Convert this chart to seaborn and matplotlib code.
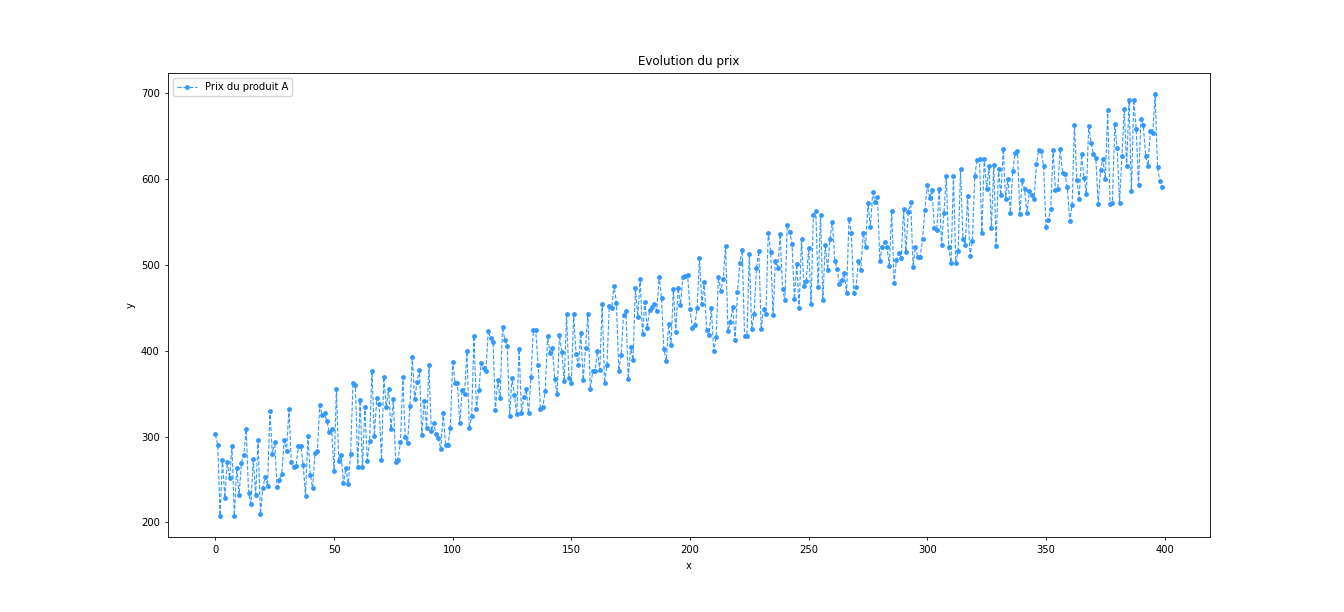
import matplotlib
matplotlib.use("Agg")
import matplotlib.pyplot as plt
import seaborn as sns
import pandas as pd

prix = [
302.4,290.7,207.8,273.2,228.4,270.5,251.8,288.4,207.8,263.5,232.3,269.7,279.0,308.2,234.3,221.8,274.4,232.3,295.4,210.1,
240.1,253.0,242.8,329.3,280.2,294.2,240.9,249.8,256.8,295.4,282.9,331.6,270.9,264.2,265.4,288.4,289.5,267.4,231.1,300.1,
255.7,240.1,281.0,283.7,336.3,324.6,326.9,317.6,305.5,309.0,259.6,355.0,271.3,277.9,245.9,263.5,245.2,280.2,362.8,360.1,
264.3,342.1,264.3,334.3,272.0,294.6,376.4,300.5,344.5,338.2,272.4,369.4,334.3,355.0,308.3,343.3,270.1,273.2,293.4,369.4,
299.3,292.7,335.5,392.8,343.3,363.9,377.2,301.6,341.4,310.2,383.4,306.3,316.1,302.4,298.5,284.9,327.7,290.0,290.0,309.4,
386.9,362.8,362.4,315.3,353.8,349.2,399.4,309.4,323.5,417.3,331.6,353.8,385.4,380.3,376.0,423.2,414.6,410.7,330.5,365.5,
344.5,427.8,412.2,405.6,323.5,367.9,348.4,325.8,401.7,327.4,346.1,355.0,327.0,369.4,423.9,423.9,383.0,331.6,334.4,353.1,
417.3,397.1,403.7,366.7,349.2,418.5,398.6,364.4,442.6,367.9,362.4,442.6,395.9,383.0,420.8,365.5,403.7,443.0,355.0,376.0,
376.0,399.8,377.6,454.7,362.4,383.0,452.3,449.6,475.7,455.8,376.4,394.7,441.8,446.1,366.7,404.8,388.9,473.0,439.5,483.9,
419.2,456.6,426.2,448.0,450.4,454.3,446.5,486.2,461.3,401.7,388.1,431.3,406.8,471.8,421.6,473.0,453.5,486.2,486.6,488.5,
448.4,426.2,429.8,449.6,508.0,454.3,480.4,423.9,418.1,449.6,399.4,415.7,486.2,469.9,483.1,522.4,423.1,434.0,450.4,412.2,
467.9,502.6,517.4,417.3,417.3,513.1,425.1,442.6,496.3,516.2,425.1,448.8,442.6,537.6,515.4,441.4,504.9,496.3,536.1,471.8,
459.0,547.0,538.8,524.4,460.1,501.0,449.6,530.2,475.3,481.5,519.7,454.3,558.6,563.3,473.7,558.6,458.9,523.6,494.4,530.2,
550.4,504.9,495.2,477.6,482.3,490.5,467.5,553.6,536.8,467.5,474.5,504.9,494.4,537.2,521.2,572.2,544.6,584.7,573.0,579.6,
504.9,521.2,526.3,521.2,498.6,563.3,478.8,506.0,513.4,508.0,565.3,515.4,562.1,573.8,497.9,521.2,508.8,509.6,530.2,564.1,
592.9,578.1,586.7,542.7,541.1,588.7,523.2,560.6,603.1,521.3,502.6,603.1,502.6,516.6,612.0,530.2,523.6,579.7,510.4,528.3,
603.8,622.5,623.7,537.3,623.7,587.9,614.7,543.1,615.9,522.1,612.0,580.9,635.4,576.2,600.4,561.0,608.9,630.3,632.3,558.7,
598.4,587.9,561.0,585.5,581.6,577.0,617.9,634.2,632.3,614.7,544.7,551.7,565.3,634.2,586.7,588.6,635.4,607.3,606.2,590.2,
551.3,569.2,663.4,599.2,577.0,628.8,601.5,582.8,661.5,642.4,629.5,624.9,571.1,610.9,623.7,600.3,680.2,571.1,572.3,664.6,
636.5,572.3,626.4,682.1,614.7,691.8,585.5,692.6,658.0,593.3,670.4,663.4,626.4,615.5,655.6,653.7,698.5,614.0,597.2,590.6,
]
jours = list(range(len(prix)))

df = pd.DataFrame({"x": jours, "y": prix})

plt.rcParams.update({"font.size": 7.2, "axes.linewidth": 0.6,
                     "xtick.major.width": 0.6, "ytick.major.width": 0.6,
                     "xtick.major.size": 2.5, "ytick.major.size": 2.5})

fig, ax = plt.subplots(figsize=(13.44, 6.12), dpi=100)
sns.lineplot(data=df, x="x", y="y", ax=ax, color="#3399ff", linestyle="--",
             linewidth=0.8, marker="o", markersize=3.5, markeredgewidth=0,
             label="Prix du produit A")
ax.set_title("Evolution du prix", fontsize=8.6)
ax.set_xlabel("x")
ax.set_ylabel("y")
ax.set_xticks([0, 50, 100, 150, 200, 250, 300, 350, 400])
ax.set_yticks([200, 300, 400, 500, 600, 700])
ax.legend(loc="upper left")
fig.subplots_adjust(left=0.125, right=0.9, top=0.88, bottom=0.123)
fig.savefig("out.png", dpi=100)
